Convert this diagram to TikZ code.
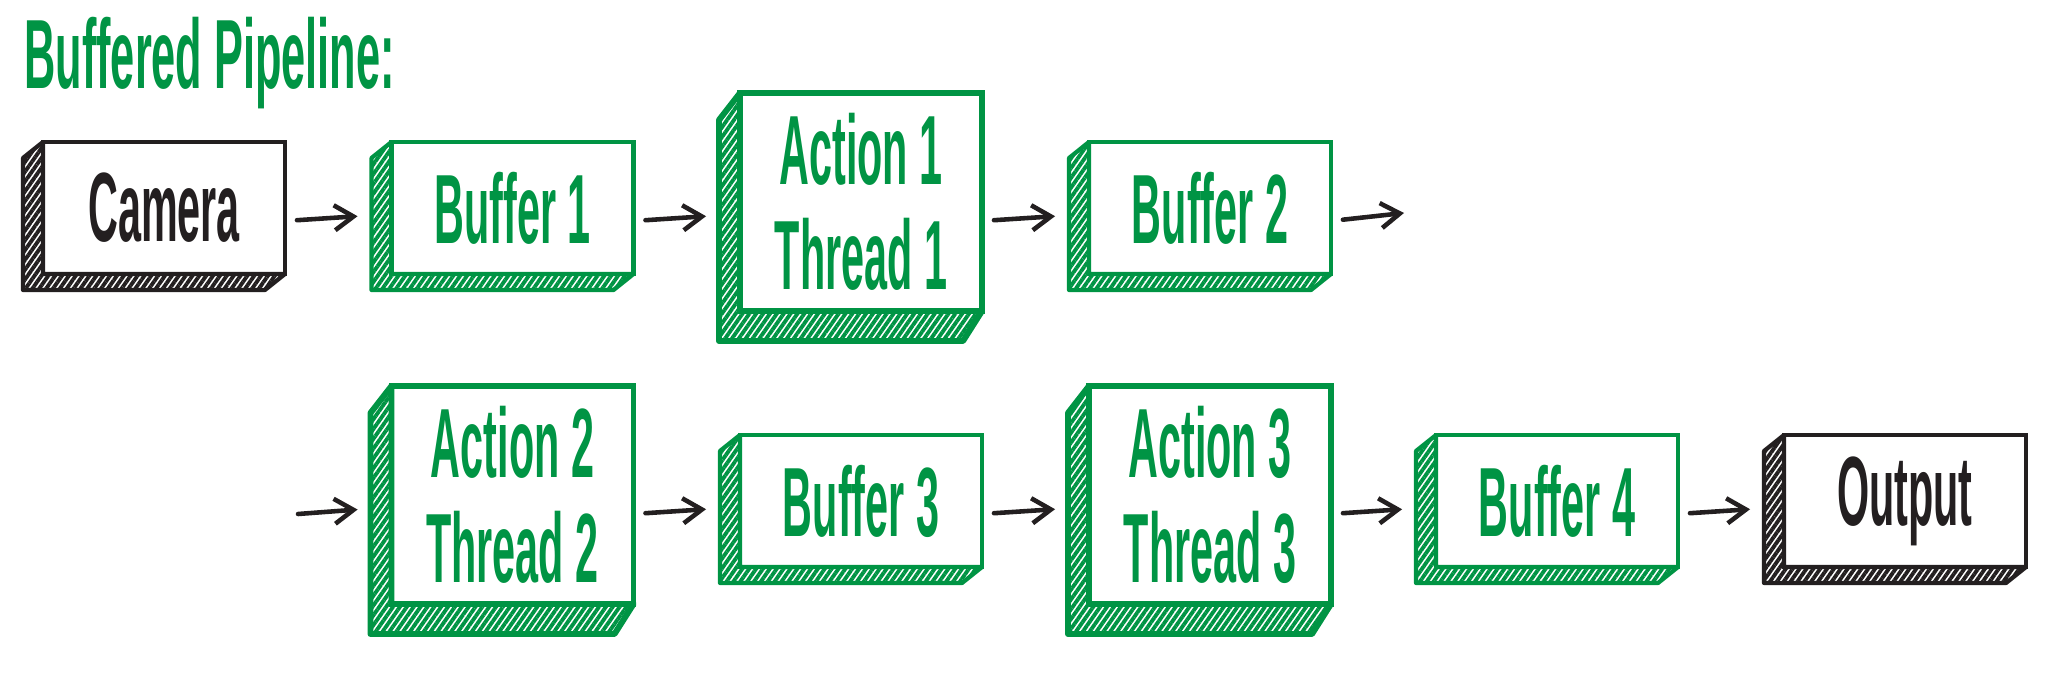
\documentclass[tikz,border=0pt]{standalone}
\usepackage{fontspec}
\usetikzlibrary{positioning}
\usetikzlibrary{arrows.meta}
\usetikzlibrary{patterns.meta}
\newfontfamily\handfont[FakeStretch=0.42]{Liberation Sans}
\newfontfamily\titlefont[FakeStretch=0.44]{Liberation Sans}
\definecolor{grn}{RGB}{0,148,68}
\definecolor{ink}{RGB}{35,31,32}
\tikzset{>={Straight Barb[length=1.9mm,width=2.5mm]}}
\tikzset{txt/.style={font=\handfont\bfseries\fontsize{28}{30}\selectfont}}
\tikzset{box/.style={draw, fill=white, txt, align=center, line width=1.2pt, outer sep=0pt, inner sep=0pt, minimum width=2.42cm, minimum height=1.32cm}}
\tikzset{act/.style={box, line width=1.7pt, minimum height=2.18cm}}
\tikzset{hatch/.style={draw=#1, line width=1.2pt, line join=round, pattern={Lines[angle=55,distance=1.6pt,line width=1.1pt]}, pattern color=#1}}
\tikzset{flow/.style={->, color=ink, line width=1.3pt, line cap=round, shorten <=1.2mm, shorten >=3.4mm}}

\begin{document}
\begin{tikzpicture}
    \useasboundingbox (0,0) rectangle (20.48,6.78);

    \node[font=\titlefont\bfseries\fontsize{28}{30}\selectfont, text=grn, anchor=base west] (title) at (0.12,5.89) {Buffered Pipeline:};

    % first row
    \node[box, draw=ink, text=ink] (cam) at (1.64,4.70) {Camera};
    \node[box, draw=grn, text=grn] (buf1) at (5.125,4.70) {Buffer 1};
    \node[act, draw=grn, text=grn] (act1) at (8.61,4.76) {Action 1\\Thread 1};
    \node[box, draw=grn, text=grn] (buf2) at (12.10,4.70) {Buffer 2};
    \coordinate (out2) at (14.04,4.65);

    % second row
    \coordinate (in2) at (2.98,1.64);
    \node[act, draw=grn, text=grn] (act2) at (5.125,1.83) {Action 2\\Thread 2};
    \node[box, draw=grn, text=grn] (buf3) at (8.61,1.77) {Buffer 3};
    \node[act, draw=grn, text=grn] (act3) at (12.10,1.83) {Action 3\\Thread 3};
    \node[box, draw=grn, text=grn] (buf4) at (15.57,1.77) {Buffer 4};
    \node[box, draw=ink, text=ink] (out) at (19.05,1.77) {Output};

    % hatched sides
    \foreach \n/\c in {cam/ink,buf1/grn,buf2/grn,buf3/grn,buf4/grn,out/ink}
        \draw[hatch=\c] (\n.north west) -- ++(-0.2,-0.16) -- ([shift={(-0.2,-0.16)}]\n.south west)
         -- ([shift={(-0.2,-0.16)}]\n.south east) -- (\n.south east) -- (\n.south west) -- cycle;
    \foreach \n in {act1,act2,act3}
        \draw[hatch=grn, line width=1.7pt] (\n.north west) -- ++(-0.21,-0.27) -- ([shift={(-0.21,-0.30)}]\n.south west)
         -- ([shift={(-0.19,-0.30)}]\n.south east) -- (\n.south east) -- (\n.south west) -- cycle;

    \draw[flow] ([yshift=-1.3mm]cam.east) -- ([yshift=-0.6mm]buf1.west);
    \draw[flow] ([yshift=-1.3mm]buf1.east) -- ([yshift=-1.2mm]act1.west);
    \draw[flow] ([yshift=-1.9mm]act1.east) -- ([yshift=-0.6mm]buf2.west);
    \draw[flow, shorten >=0pt] ([yshift=-1.3mm]buf2.east) -- (out2);

    \draw[flow, shorten <=0pt] (in2) -- ([yshift=-1.2mm]act2.west);
    \draw[flow] ([yshift=-1.9mm]act2.east) -- ([yshift=-0.6mm]buf3.west);
    \draw[flow] ([yshift=-1.3mm]buf3.east) -- ([yshift=-1.2mm]act3.west);
    \draw[flow] ([yshift=-1.9mm]act3.east) -- ([yshift=-0.6mm]buf4.west);
    \draw[flow] ([yshift=-1.3mm]buf4.east) -- ([yshift=-0.6mm]out.west);
\end{tikzpicture}
\end{document}
